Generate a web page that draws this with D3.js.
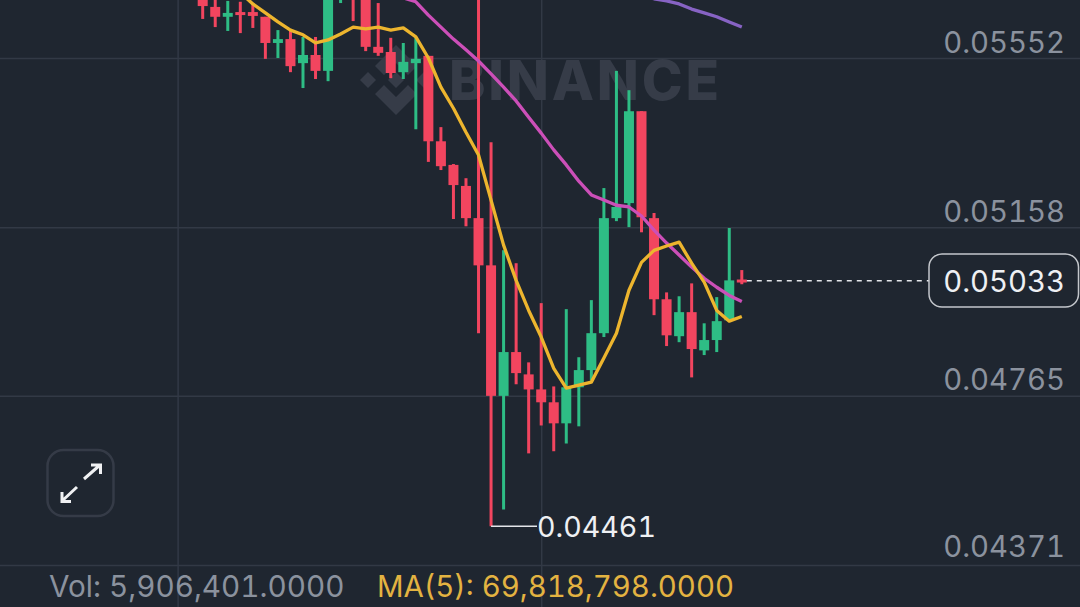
<!DOCTYPE html>
<html>
<head>
<meta charset="utf-8">
<script src="https://cdn.jsdelivr.net/npm/d3@7"></script>
<style>
html,body{margin:0;padding:0;background:#1f2630;overflow:hidden}
svg{display:block}
text{font-family:Inter,"Noto Sans",sans-serif;font-feature-settings:"tnum"}
</style>
</head>
<body>
<svg id="chart" width="1080" height="607"></svg>
<script>
// candles, oldest first. first ones run off the top of the crop
var opens = [.05699,.05671,.05648,.05659,.05659,.05648,.05587,.05596,.05540,.05559,.05522,.05692,.05708,.05700,.05578,.05566,.05519,.05540,.05557,.05358,.05303,.05254,.05179,.05069,.04765,.04867,.04815,.04780,.04750,.04701,.04785,.04825,.04911,.05179,.05214,.05428,.05179,.04990,.04904,.04960,.04871,.04895,.04941,.05036]
var highs = [.05710,.05695,.05685,.05683,.05680,.05648,.05617,.05615,.05601,.05601,.05699,.05712,.05712,.05705,.05680,.05599,.05587,.05599,.05557,.05391,.05305,.05272,.05700,.05356,.05104,.05074,.04843,.04981,.04787,.04967,.04855,.04988,.05249,.05522,.05477,.05428,.05191,.05006,.04997,.05027,.04934,.04995,.05156,.05058]
var lows = [.05643,.05624,.05615,.05610,.05622,.05550,.05552,.05519,.05482,.05503,.05498,.05680,.05638,.05568,.05557,.05505,.05503,.05386,.05310,.05291,.05177,.05160,.04911,.04461,.04500,.04792,.04631,.04696,.04636,.04654,.04694,.04801,.04902,.05172,.05158,.05146,.04953,.04881,.04890,.04808,.04860,.04867,.04941,.05025]
var closes = [.05673,.05648,.05657,.05652,.05650,.05587,.05596,.05533,.05559,.05522,.05699,.05706,.05692,.05578,.05564,.05517,.05543,.05550,.05358,.05300,.05256,.05179,.05069,.04765,.04867,.04818,.04780,.04750,.04701,.04785,.04825,.04911,.05179,.05205,.05428,.05181,.04990,.04906,.04960,.04874,.04895,.04939,.05034,.05033]

var maFast = [null,null,null,.05704,.05678,.05657,.05636,.05617,.05606,.05587,.05594,.05608,.05624,.05620,.05624,.05617,.05622,.05601,.05552,.05484,.05435,.05379,.05326,.05221,.05116,.05034,.04964,.04902,.04829,.04783,.04790,.04797,.04853,.04911,.05011,.05076,.05104,.05114,.05123,.05074,.05030,.04964,.04939,.04950]
var maMid = [null,null,null,null,null,null,null,null,null,null,null,null,null,null,null,null,.05692,.05683,.05652,.05624,.05596,.05571,.05545,.05515,.05484,.05452,.05414,.05377,.05338,.05303,.05265,.05233,.05221,.05209,.05205,.05184,.05151,.05121,.05093,.05065,.05039,.05018,.04999,.04985]
var maSlow = [null,null,null,null,null,null,null,null,null,null,null,null,null,null,null,null,null,null,null,null,null,null,null,null,null,null,null,null,null,null,null,null,null,null,null,.05697,.05690,.05685,.05678,.05666,.05657,.05648,.05636,.05624]

var priceTicks = [.05552,.05158,.04765,.04371]
var gridCandles = [-2,27]   // vertical grid sits every 29 candles
var lowIndex = 23
var lastPrice = .05033
var volLabel = 'Vol: 5,906,401.0000'
var maLabel = 'MA(5): 69,818,798.0000'

var bg = '#1f2630', red = '#f2455f', green = '#2ebd85'
var W = 1080, H = 607

var svg = d3.select('#chart')
svg.append('rect').attr('width',W).attr('height',H).attr('fill',bg)

var x = d3.scaleLinear().domain([0,43]).range([202.7,741.8])
var y = d3.scaleLinear().domain([priceTicks[0],priceTicks[3]]).range([58,565])

// grid + price labels come from the axes
var xAxis = d3.axisBottom(x).tickValues(gridCandles).tickSize(H).tickFormat('')
svg.append('g').call(xAxis)
	.call(g=>g.select('.domain').remove())
	.selectAll('line').attr('stroke','#323945').attr('stroke-width',1.5)

var yAxis = d3.axisLeft(y).tickValues(priceTicks).tickSize(W).tickFormat(d3.format('.5f'))
var yG = svg.append('g').attr('transform','translate('+W+',0)').call(yAxis)
yG.select('.domain').remove()
yG.selectAll('line').attr('stroke','#323945').attr('stroke-width',1.5)
yG.selectAll('text')
	.attr('x',-15)
	.attr('dy',d=>d==priceTicks[3]?-9:-6)
	.attr('text-anchor','end')
	.attr('dominant-baseline','auto')
	.attr('fill','#8b929e')
	.style('font-size','29.3px')
	.style('font-family','Inter,"Noto Sans",sans-serif')

// watermark
var mark = svg.append('g').attr('fill','#363c48')
var logo = [
	[[396,115],[417,94],[408,85],[396,97],[384,85],[375,94]],
	[[396,45],[417,66],[408,75],[396,63],[384,75],[375,66]],
	[[396,72],[404,80],[396,88],[388,80]],
	[[368,72],[376,80],[368,88],[360,80]],
	[[424,72],[432,80],[424,88],[416,80]]
]
logo.forEach(p=>mark.append('polygon').attr('points',p.join(' ')))
mark.append('text').attr('x',449).attr('y',100).attr('textLength',270)
	.style('font-size','55px').style('font-weight',800).text('BINANCE')

// candles
var idx = d3.range(opens.length)
var candles = svg.append('g')
var colorOf = i=>closes[i]>=opens[i]?green:red
candles.selectAll('line').data(idx).enter().append('line')
	.attr('x1',i=>x(i)).attr('x2',i=>x(i))
	.attr('y1',i=>y(highs[i])).attr('y2',i=>y(lows[i]))
	.attr('stroke',colorOf).attr('stroke-width',3)
candles.selectAll('rect').data(idx).enter().append('rect')
	.attr('x',i=>x(i)-5).attr('width',10)
	.attr('y',i=>y(Math.max(opens[i],closes[i])))
	.attr('height',i=>Math.max(3,Math.abs(y(opens[i])-y(closes[i]))))
	.attr('fill',colorOf)

// moving averages
var line = d3.line().defined(d=>d!==null).x((d,i)=>x(i)).y(d=>y(d))
var maLines = [[maSlow,'#8763c4'],[maMid,'#cc4fb8'],[maFast,'#edb52e']]
maLines.forEach(m=>{
	svg.append('path').attr('d',line(m[0])).attr('fill','none')
		.attr('stroke',m[1]).attr('stroke-width',3.3).attr('stroke-linejoin','round')
})

// lowest price marker
var lx = x(lowIndex), ly = y(lows[lowIndex])
svg.append('line').attr('x1',lx).attr('x2',537).attr('y1',ly).attr('y2',ly)
	.attr('stroke','#e4e6ea').attr('stroke-width',1.5)
svg.append('text').attr('x',537).attr('y',537).attr('fill','#eef0f3')
	.style('font-size','28.6px').text(d3.format('.5f')(lows[lowIndex]))

// last price tag
var py = y(lastPrice)
svg.append('line').attr('x1',x(43)+5).attr('x2',929).attr('y1',py).attr('y2',py)
	.attr('stroke','#e4e6ea').attr('stroke-width',1.5).attr('stroke-dasharray','5 5')
svg.append('rect').attr('x',929).attr('y',254).attr('width',149.5).attr('height',53).attr('rx',13)
	.attr('fill',bg).attr('stroke','#c3c6cb').attr('stroke-width',1.5)
svg.append('text').attr('x',1065).attr('y',292).attr('text-anchor','end').attr('fill','#eef0f3')
	.style('font-size','29.3px').text(d3.format('.5f')(lastPrice))

// expand button
svg.append('rect').attr('x',47.5).attr('y',450).attr('width',66).attr('height',66).attr('rx',16)
	.attr('fill','none').attr('stroke','#353b47').attr('stroke-width',2.5)
var icon = svg.append('g').attr('fill','none').attr('stroke','#f0f1f3').attr('stroke-width',3)
icon.append('path').attr('d','M84,479L100,465M91,465H100.5V474')
icon.append('path').attr('d','M77,487L62,501M62,492V501.5H71')

// footer
svg.append('text').attr('x',49).attr('y',597).attr('fill','#8b929e')
	.style('font-size','29.7px').text(volLabel)
svg.append('text').attr('x',377).attr('y',597).attr('fill','#e3b341')
	.style('font-size','29.4px').text(maLabel)
</script>
</body>
</html>
